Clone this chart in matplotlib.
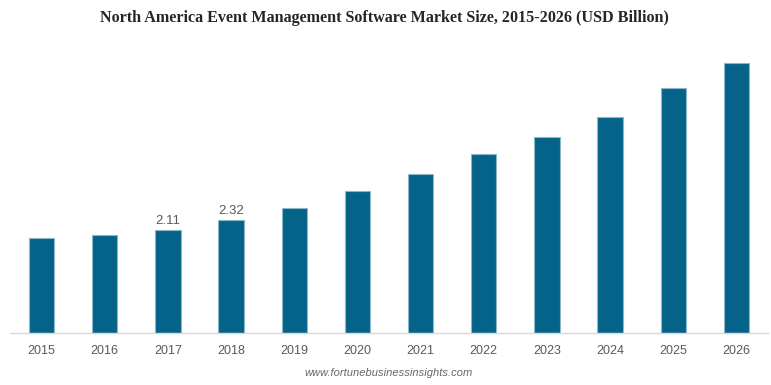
import matplotlib
matplotlib.use("Agg")
import matplotlib.pyplot as plt

years = ["2015", "2016", "2017", "2018", "2019", "2020", "2021", "2022", "2023", "2024", "2025", "2026"]
values = [1.96, 2.01, 2.11, 2.32, 2.57, 2.92, 3.27, 3.68, 4.02, 4.44, 5.03, 5.54]
labeled = {"2017": "2.11", "2018": "2.32"}

W, H = 771, 385
fig = plt.figure(figsize=(W / 100, H / 100), dpi=100)
ax = fig.add_axes([10 / W, (H - 333) / H, (768 - 10) / W, (333 - 50) / H])

x = list(range(len(years)))
bars = ax.bar(x, values, width=0.40, color="#05638A", edgecolor="#8db6c9", linewidth=0.8, zorder=2)

ax.set_xlim(-0.5, len(years) - 0.5)
ax.set_ylim(0, 283 / 48.7)
ax.set_xticks(x)
ax.set_xticklabels(years, fontsize=9, color="#595959", fontfamily="Liberation Sans")
ax.tick_params(axis="x", length=0, pad=9)
ax.set_yticks([])
for s in ["top", "right", "left"]:
    ax.spines[s].set_visible(False)
ax.spines["bottom"].set_color("#d9d9d9")
ax.spines["bottom"].set_linewidth(1.0)

for xi, yr, v in zip(x, years, values):
    if yr in labeled:
        ax.text(xi, v + 0.06, labeled[yr], ha="center", va="bottom", fontsize=9.5,
                color="#595959", fontfamily="Liberation Sans")

fig.text(384 / W, 1 - 18 / H, "North America Event Management Software Market Size, 2015-2026 (USD Billion)",
         ha="center", va="center", fontsize=11.6, fontweight="bold", fontfamily="Liberation Serif", color="#262626")
fig.text(389 / W, 1 - 373 / H, "www.fortunebusinessinsights.com", ha="center", va="center",
         fontsize=8, style="italic", fontfamily="Liberation Sans", color="#666666")

fig.savefig("out.png", dpi=100)
